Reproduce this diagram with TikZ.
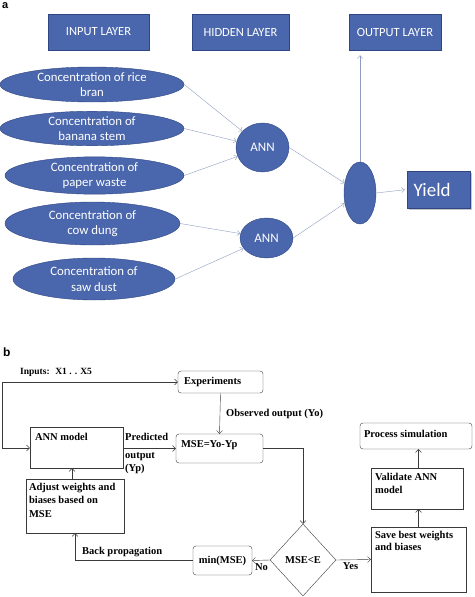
\documentclass[tikz,border=0pt]{standalone}
\usepackage{fontspec}
\setmainfont{Liberation Serif}
\newfontfamily\calibri{Carlito}
\newfontfamily\panelfont{Liberation Sans}
\usetikzlibrary{shapes.geometric, arrows.meta, shadows}

\definecolor{annblue}{HTML}{4A66AC}
\definecolor{annedge}{HTML}{2E4682}
\definecolor{linkgray}{HTML}{8E9CC0}
\definecolor{flowgray}{HTML}{3A3A3A}

\begin{document}
\begin{tikzpicture}[x=1pt, y=-1pt,
    layer/.style={rectangle, draw=annedge, fill=annblue, text=white, inner sep=0pt, minimum height=36pt, font=\calibri\fontsize{12.5}{14}\selectfont},
    conc/.style={ellipse, draw=annedge, fill=annblue, text=white, inner sep=0pt, align=center, font=\calibri\fontsize{12.8}{15.5}\selectfont},
    neuron/.style={ellipse, draw=annedge, fill=annblue, text=white, inner sep=0pt, font=\calibri\fontsize{13}{14}\selectfont},
    link/.style={draw=linkgray, thin, -{Straight Barb[length=3pt, width=5pt]}},
    blk/.style={rectangle, draw=flowgray, thin, inner sep=0pt},
    rblk/.style={blk, rounded corners=3pt},
    txt/.style={font=\bfseries\fontsize{10.5}{13.5}\selectfont, inner sep=0pt, align=left},
    flow/.style={draw=flowgray, thin, -{Straight Barb[length=3pt, width=6pt]}}
]
\useasboundingbox (0,0) rectangle (474,597);

% Panel a: network
\node[font=\panelfont\bfseries\fontsize{11}{11}\selectfont, anchor=north west, inner sep=0pt] (tga) at (2,2) {a};

\node[layer, minimum width=101pt] (inlayer) at (98.5,32) {INPUT LAYER};
\node[layer, minimum width=97pt] (hidlayer) at (240.5,32) {HIDDEN LAYER};
\node[layer, minimum width=92pt] (outlayer) at (395,32) {OUTPUT LAYER};

\node[conc, minimum width=184pt, minimum height=35pt] (rice) at (92,84.5) {Concentration of rice\\bran};
\node[conc, minimum width=184pt, minimum height=33pt] (banana) at (92,128.5) {Concentration of\\banana stem};
\node[conc, minimum width=179pt, minimum height=35pt] (paper) at (94.5,175.5) {Concentration of\\paper waste};
\node[conc, minimum width=175pt, minimum height=43pt] (cow) at (92.5,223.5) {Concentration of\\cow dung};
\node[conc, minimum width=162pt, minimum height=42pt] (saw) at (94,279) {Concentration of\\saw dust};

\node[neuron, minimum width=53pt, minimum height=49pt] (ann1) at (262.5,147.5) {ANN};
\node[neuron, minimum width=53pt, minimum height=40pt] (ann2) at (266.5,238) {ANN};
\node[neuron, minimum width=32pt, minimum height=62pt] (out) at (360,193) {};
\node[rectangle, draw=annedge, fill=annblue, text=white, inner sep=0pt, minimum width=63pt, minimum height=37pt,
      text width=50pt, align=left, font=\calibri\fontsize{19}{19}\selectfont,
      drop shadow={shadow xshift=1.5pt, shadow yshift=-1.5pt, fill=gray!45, opacity=1}] (yield) at (438.5,189.5) {Yield};

% Connections
\draw[link] (rice.east) -- (ann1);
\draw[link] (banana.east) -- (ann1);
\draw[link] (paper.east) -- (ann1);
\draw[link] (cow.east) -- (ann2);
\draw[link] (saw.east) -- (ann2);
\draw[link] (ann1.east) -- (out);
\draw[link] (ann2.east) -- (out);
\draw[link, shorten >=5pt] (out.north) -- (out.north |- outlayer.south);
\draw[link, shorten >=2pt] (out.east) -- (yield.west);

% Panel b: training flow
\node[font=\panelfont\bfseries\fontsize{12}{12}\selectfont, anchor=north west, inner sep=0pt] (tgb) at (3,348) {b};

\node[rblk, minimum width=85pt, minimum height=22pt,
      label={[txt, anchor=west, xshift=6pt]west:Experiments}] (exper) at (220.5,382) {};
\node[rblk, minimum width=87pt, minimum height=29pt,
      label={[txt, anchor=north west, xshift=5pt, yshift=-7pt]north west:MSE=Yo-Yp}] (mse) at (219.5,448.5) {};
\node[blk, minimum width=93pt, minimum height=41pt,
      label={[txt, anchor=north west, xshift=5pt, yshift=-6pt]north west:ANN model}] (annm) at (76.5,447.5) {};
\node[blk, minimum width=98pt, minimum height=54pt,
      label={[txt, anchor=north west, xshift=3pt, yshift=-4pt]north west:Adjust weights and\\biases based on\\MSE}] (adjust) at (75,506) {};
\node[rblk, minimum width=59pt, minimum height=29pt, txt] (minmse) at (222.5,560.5) {min(MSE)};
\node[diamond, draw=flowgray, thin, inner sep=0pt, minimum width=66pt, minimum height=72pt, txt] (test) at (303,560) {MSE{<}E};
\node[blk, minimum width=95pt, minimum height=65pt,
      label={[txt, anchor=north west, xshift=4pt, yshift=-4pt, font=\bfseries\fontsize{10.5}{12}\selectfont]north west:Save best weights\\and biases}] (save) at (418.5,559.5) {};
\node[blk, minimum width=92pt, minimum height=41pt,
      label={[txt, anchor=north west, xshift=4pt, yshift=-5pt]north west:Validate ANN\\model}] (valid) at (417,488.5) {};
\node[rblk, minimum width=112pt, minimum height=26pt,
      label={[txt, anchor=west, xshift=4pt, yshift=2pt]west:Process simulation}] (procsim) at (416,436) {};

% Input lines
\coordinate (inlt) at (2,382);
\coordinate (inlb) at (2,448);
\node[txt, anchor=west, font=\bfseries\fontsize{9.5}{12}\selectfont] (inputs) at (20,372) {Inputs:~ X1 . . X5};
\draw[flow] (inlt) -- (exper.west);
\draw[flow] (inlt) -- (inlb) -- (inlb -| annm.west);

% Flow connections
\draw[flow] (exper.south) -- (mse.north) node[txt, midway, anchor=west, xshift=6pt] (obs) {Observed output (Yo)};
\draw[flow] (annm.east |- mse.west) -- (mse.west);
\node[txt, anchor=west] (pred) at (125,437) {Predicted};
\node[txt, anchor=north west] (predout) at (125,452) {output\\(Yp)};
\draw[flow] (mse.east) -| (test.north);
\draw[flow] (test.west) -- (minmse.east) node[txt, anchor=north west, pos=0.85, yshift=-3pt] (no) {No};
\draw[flow] (test.east) -- (save.west) node[txt, midway, anchor=north, yshift=-3pt, xshift=-3pt] (yes) {Yes};
\draw[flow] (minmse.west) -| (adjust.south) node[txt, pos=0.3, anchor=south, yshift=3pt] (backp) {Back propagation};
\draw[flow] ([xshift=-3pt]adjust.north) -- ([xshift=-3pt]adjust.north |- annm.south);
\draw[flow] (save.north) -- (valid.south -| save.north);
\draw[flow] (valid.north -| save.north) -- (procsim.south -| save.north);

\end{tikzpicture}
\end{document}
